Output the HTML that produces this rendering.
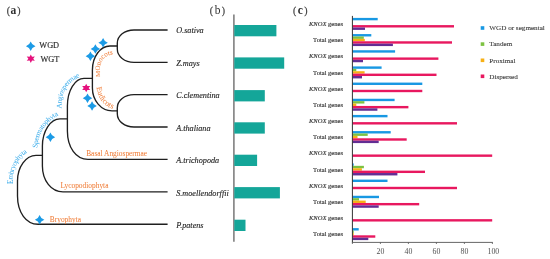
<!DOCTYPE html>
<html><head><meta charset="utf-8"><title>figure</title>
<style>
html,body{margin:0;padding:0;background:#fff;}
svg{display:block;font-family:"Liberation Serif",serif;}
.sp{font-style:italic;font-size:8.2px;fill:#2b2b2b;stroke:#2b2b2b;stroke-width:0.15;}
.or{font-size:7.4px;fill:#F0813F;stroke:#F0813F;stroke-width:0.05;}
.bl{font-size:7.2px;fill:#33A9EA;}
.lg{font-size:7.15px;fill:#3a3a3a;stroke:#3a3a3a;stroke-width:0.1;}
.cat{font-size:6.55px;fill:#2e2e2e;text-anchor:end;stroke:#2e2e2e;stroke-width:0.12;}
.tk{font-size:7.8px;fill:#505050;text-anchor:middle;}
.pl{font-size:12.5px;fill:#333;}
.tree{fill:none;stroke:#1f1f1f;stroke-width:1.35;}
</style></head><body>
<svg width="550" height="259" viewBox="0 0 550 259">
<rect width="550" height="259" fill="#fff"/>

<text fill="#3a3a3a"><tspan x="6.7" y="13.9" font-size="9.8" stroke="#3a3a3a" stroke-width="0.2">(</tspan><tspan x="10.5" y="14.2" font-size="11.5" fill="#2e2e2e" font-weight="bold">a</tspan><tspan x="20.6" y="13.9" font-size="9.8" stroke="#3a3a3a" stroke-width="0.2" text-anchor="end">)</tspan></text>
<text fill="#3a3a3a"><tspan x="209.8" y="14.0" font-size="9.8" stroke="#3a3a3a" stroke-width="0.2">(</tspan><tspan x="214.7" y="14.3" font-size="11.5" fill="#2e2e2e">b</tspan><tspan x="225.1" y="14.0" font-size="9.8" stroke="#3a3a3a" stroke-width="0.2" text-anchor="end">)</tspan></text>
<text fill="#3a3a3a"><tspan x="292.9" y="13.9" font-size="9.8" stroke="#3a3a3a" stroke-width="0.2">(</tspan><tspan x="297.8" y="14.2" font-size="11.5" fill="#2e2e2e" font-weight="bold">c</tspan><tspan x="307.5" y="13.9" font-size="9.8" stroke="#3a3a3a" stroke-width="0.2" text-anchor="end">)</tspan></text>
<path d="M30.7,41.55 Q31.84,45.16 35.45,46.3 Q31.84,47.44 30.7,51.05 Q29.56,47.44 25.95,46.3 Q29.56,45.16 30.7,41.55Z" fill="#1C9BE6"/>
<polygon points="30.80,54.45 32.01,56.79 34.85,56.58 33.22,58.70 34.85,60.83 32.01,60.61 30.80,62.95 29.59,60.61 26.75,60.83 28.38,58.70 26.75,56.58 29.59,56.79" fill="#E5127D"/>
<text x="39.3" y="48.3" font-size="8.3" fill="#2b2b2b" stroke="#2b2b2b" stroke-width="0.15">WGD</text>
<text x="40.4" y="62.1" font-size="8.3" fill="#2b2b2b" stroke="#2b2b2b" stroke-width="0.15">WGT</text>
<path class="tree" d="M167.6,29.95 H134 C124.6,29.95 117.3,35.8 117.3,43.2 V49 C117.3,56.4 124.6,62.3 134,62.3 H167.6"/>
<path class="tree" d="M117.3,46 H110 C100.3,46 92.4,56.7 92.4,70 V88 C92.4,100.5 101.2,110.8 112,110.8 H117.3"/>
<path class="tree" d="M167.6,94.65 H134 C124.6,94.65 117.3,100.5 117.3,107.9 V113.7 C117.3,121.1 124.6,127 134,127 H167.6"/>
<path class="tree" d="M92.4,78.4 H84 C75,78.4 67.4,90.7 67.4,106 V131 C67.4,147.5 76,159.4 88,159.4 H167.6"/>
<path class="tree" d="M67.4,118.8 H60 C50.5,118.8 42.4,131 42.4,146 V166 C42.4,180.5 51.2,191.85 63,191.85 H167.6"/>
<path class="tree" d="M42.4,155.4 H36 C26,155.4 17.5,167 17.5,181 V196 C17.5,212.5 26.2,224.2 38,224.2 H167.6"/>
<path d="M103.1,38.05 Q104.24,41.66 107.85,42.8 Q104.24,43.94 103.1,47.55 Q101.96,43.94 98.35,42.8 Q101.96,41.66 103.1,38.05Z" fill="#1C9BE6"/>
<path d="M95.4,44.15 Q96.54,47.76 100.15,48.9 Q96.54,50.04 95.4,53.65 Q94.26,50.04 90.65,48.9 Q94.26,47.76 95.4,44.15Z" fill="#1C9BE6"/>
<path d="M90.4,51.45 Q91.54,55.06 95.15,56.2 Q91.54,57.34 90.4,60.95 Q89.26,57.34 85.65,56.2 Q89.26,55.06 90.4,51.45Z" fill="#1C9BE6"/>
<path d="M87.5,93.45 Q88.64,97.06 92.25,98.2 Q88.64,99.34 87.5,102.95 Q86.36,99.34 82.75,98.2 Q86.36,97.06 87.5,93.45Z" fill="#1C9BE6"/>
<path d="M92.05,101.35 Q93.19,104.96 96.8,106.1 Q93.19,107.24 92.05,110.85 Q90.91,107.24 87.3,106.1 Q90.91,104.96 92.05,101.35Z" fill="#1C9BE6"/>
<path d="M50.4,132.45 Q51.54,136.06 55.15,137.2 Q51.54,138.33999999999997 50.4,141.95 Q49.26,138.33999999999997 45.65,137.2 Q49.26,136.06 50.4,132.45Z" fill="#1C9BE6"/>
<path d="M39.6,215.05 Q40.74,218.66000000000003 44.35,219.8 Q40.74,220.94 39.6,224.55 Q38.46,220.94 34.85,219.8 Q38.46,218.66000000000003 39.6,215.05Z" fill="#1C9BE6"/>
<polygon points="86.20,83.75 87.41,86.09 90.25,85.88 88.62,88.00 90.25,90.12 87.41,89.91 86.20,92.25 84.99,89.91 82.15,90.12 83.78,88.00 82.15,85.88 84.99,86.09" fill="#E5127D"/>
<text class="sp" x="176.2" y="33.2">O.sativa</text>
<text class="sp" x="176.2" y="65.6">Z.mays</text>
<text class="sp" x="176.2" y="98.2">C.clementina</text>
<text class="sp" x="176.2" y="130.6">A.thaliana</text>
<text class="sp" x="176.2" y="163">A.trichopoda</text>
<text class="sp" x="176.2" y="195.9">S.moellendorffii</text>
<text class="sp" x="176.2" y="228.3">P.patens</text>
<text class="or" x="86.2" y="156.2">Basal Angiospermae</text>
<text class="or" x="60.4" y="187.8">Lycopodiophyta</text>
<text class="or" x="49.8" y="222.4">Bryophyta</text>
<defs>
<path id="pE" d="M12.7,186 V181 C12.7,164.4 23,150.7 36,150.7"/>
<path id="pS" d="M37.3,148 C38,137.5 41.8,124.8 57.2,115.8 L66,111"/>
<path id="pA" d="M61.5,108.5 C61.5,96 63.2,84 80.8,76.4 L90,72.4"/>
<path id="pM" d="M99.9,80 V70 C99.9,61.5 104.4,55.6 112,54.6 L118,53.8"/>
<path id="pU" d="M96.2,82 C96.5,97 103,108 118,109.8"/>
</defs>
<text class="bl"><textPath href="#pE" startOffset="2" letter-spacing="-0.3">Embryophyta</textPath></text>
<text class="bl"><textPath href="#pS" startOffset="0" letter-spacing="-0.22">Spermatophyta</textPath></text>
<text class="bl"><textPath href="#pA" startOffset="0" letter-spacing="-0.24">Angiospermae</textPath></text>
<text class="or" style="font-size:7px"><textPath href="#pM" startOffset="3">MOnocots</textPath></text>
<text class="or" style="font-size:7.7px"><textPath href="#pU" startOffset="5" letter-spacing="0.25">Eudicots</textPath></text>
<line x1="233.9" y1="14.5" x2="233.9" y2="241.8" stroke="#777" stroke-width="1.5"/>
<rect x="234.3" y="25.0" width="42.1" height="11.3" fill="#14A699"/>
<rect x="234.3" y="57.4" width="49.9" height="11.3" fill="#14A699"/>
<rect x="234.3" y="90.1" width="30.5" height="11.3" fill="#14A699"/>
<rect x="234.3" y="122.3" width="30.5" height="11.3" fill="#14A699"/>
<rect x="234.3" y="154.7" width="22.8" height="11.3" fill="#14A699"/>
<rect x="234.3" y="187.1" width="45.6" height="11.3" fill="#14A699"/>
<rect x="234.3" y="219.7" width="11.2" height="11.3" fill="#14A699"/>
<rect x="352.4" y="17.90" width="25.3" height="2.4" fill="#1898E3"/>
<rect x="352.4" y="25.10" width="101.6" height="2.4" fill="#E8185F"/>
<rect x="352.4" y="27.50" width="12.6" height="2.4" fill="#622D93"/>
<text class="cat" x="343" y="26.0"><tspan font-style="italic">KNOX</tspan> genes</text>
<rect x="352.4" y="34.07" width="18.9" height="2.4" fill="#1898E3"/>
<rect x="352.4" y="36.47" width="11.4" height="2.4" fill="#7DC242"/>
<rect x="352.4" y="38.87" width="12.4" height="2.4" fill="#F7B015"/>
<rect x="352.4" y="41.27" width="99.6" height="2.4" fill="#E8185F"/>
<rect x="352.4" y="43.67" width="40.5" height="2.4" fill="#622D93"/>
<text class="cat" x="343" y="42.2">Total genes</text>
<rect x="352.4" y="50.24" width="42.7" height="2.4" fill="#1898E3"/>
<rect x="352.4" y="57.44" width="86.0" height="2.4" fill="#E8185F"/>
<rect x="352.4" y="59.84" width="10.6" height="2.4" fill="#622D93"/>
<text class="cat" x="343" y="58.3"><tspan font-style="italic">KNOX</tspan> genes</text>
<rect x="352.4" y="66.41" width="29.2" height="2.4" fill="#1898E3"/>
<rect x="352.4" y="68.81" width="3.9" height="2.4" fill="#7DC242"/>
<rect x="352.4" y="71.21" width="12.2" height="2.4" fill="#F7B015"/>
<rect x="352.4" y="73.61" width="84.1" height="2.4" fill="#E8185F"/>
<rect x="352.4" y="76.01" width="9.6" height="2.4" fill="#622D93"/>
<text class="cat" x="343" y="74.5">Total genes</text>
<rect x="352.4" y="82.58" width="69.9" height="2.4" fill="#1898E3"/>
<rect x="352.4" y="89.78" width="69.9" height="2.4" fill="#E8185F"/>
<text class="cat" x="343" y="90.7"><tspan font-style="italic">KNOX</tspan> genes</text>
<rect x="352.4" y="98.75" width="42.2" height="2.4" fill="#1898E3"/>
<rect x="352.4" y="101.15" width="12.0" height="2.4" fill="#7DC242"/>
<rect x="352.4" y="103.55" width="3.9" height="2.4" fill="#F7B015"/>
<rect x="352.4" y="105.95" width="56.0" height="2.4" fill="#E8185F"/>
<rect x="352.4" y="108.35" width="25.0" height="2.4" fill="#622D93"/>
<text class="cat" x="343" y="106.8">Total genes</text>
<rect x="352.4" y="114.92" width="35.1" height="2.4" fill="#1898E3"/>
<rect x="352.4" y="122.12" width="104.6" height="2.4" fill="#E8185F"/>
<text class="cat" x="343" y="123.0"><tspan font-style="italic">KNOX</tspan> genes</text>
<rect x="352.4" y="131.09" width="38.3" height="2.4" fill="#1898E3"/>
<rect x="352.4" y="133.49" width="15.3" height="2.4" fill="#7DC242"/>
<rect x="352.4" y="135.89" width="5.1" height="2.4" fill="#F7B015"/>
<rect x="352.4" y="138.29" width="54.3" height="2.4" fill="#E8185F"/>
<rect x="352.4" y="140.69" width="26.3" height="2.4" fill="#622D93"/>
<text class="cat" x="343" y="139.2">Total genes</text>
<rect x="352.4" y="154.46" width="139.8" height="2.4" fill="#E8185F"/>
<text class="cat" x="343" y="155.4"><tspan font-style="italic">KNOX</tspan> genes</text>
<rect x="352.4" y="163.43" width="1.3" height="2.4" fill="#1898E3"/>
<rect x="352.4" y="165.83" width="11.5" height="2.4" fill="#7DC242"/>
<rect x="352.4" y="168.23" width="9.5" height="2.4" fill="#F7B015"/>
<rect x="352.4" y="170.63" width="72.6" height="2.4" fill="#E8185F"/>
<rect x="352.4" y="173.03" width="45.0" height="2.4" fill="#622D93"/>
<text class="cat" x="343" y="171.5">Total genes</text>
<rect x="352.4" y="179.60" width="35.1" height="2.4" fill="#1898E3"/>
<rect x="352.4" y="186.80" width="104.6" height="2.4" fill="#E8185F"/>
<text class="cat" x="343" y="187.7"><tspan font-style="italic">KNOX</tspan> genes</text>
<rect x="352.4" y="195.77" width="26.6" height="2.4" fill="#1898E3"/>
<rect x="352.4" y="198.17" width="6.6" height="2.4" fill="#7DC242"/>
<rect x="352.4" y="200.57" width="13.3" height="2.4" fill="#F7B015"/>
<rect x="352.4" y="202.97" width="66.8" height="2.4" fill="#E8185F"/>
<rect x="352.4" y="205.37" width="26.3" height="2.4" fill="#622D93"/>
<text class="cat" x="343" y="203.9">Total genes</text>
<rect x="352.4" y="219.14" width="139.8" height="2.4" fill="#E8185F"/>
<text class="cat" x="343" y="220.0"><tspan font-style="italic">KNOX</tspan> genes</text>
<rect x="352.4" y="228.11" width="6.3" height="2.4" fill="#1898E3"/>
<rect x="352.4" y="230.51" width="1.3" height="2.4" fill="#7DC242"/>
<rect x="352.4" y="232.91" width="1.3" height="2.4" fill="#F7B015"/>
<rect x="352.4" y="235.31" width="22.9" height="2.4" fill="#E8185F"/>
<rect x="352.4" y="237.71" width="15.9" height="2.4" fill="#622D93"/>
<text class="cat" x="343" y="236.2">Total genes</text>
<line x1="352.4" y1="15.9" x2="352.4" y2="242.4" stroke="#333" stroke-width="1"/>
<line x1="351.9" y1="242.4" x2="492.8" y2="242.4" stroke="#555" stroke-width="0.9"/>
<line x1="352.4" y1="242.4" x2="352.4" y2="244" stroke="#555" stroke-width="0.8"/>
<line x1="380.4" y1="242.4" x2="380.4" y2="244" stroke="#555" stroke-width="0.8"/>
<text class="tk" x="380.4" y="253.5">20</text>
<line x1="408.4" y1="242.4" x2="408.4" y2="244" stroke="#555" stroke-width="0.8"/>
<text class="tk" x="408.4" y="253.5">40</text>
<line x1="436.4" y1="242.4" x2="436.4" y2="244" stroke="#555" stroke-width="0.8"/>
<text class="tk" x="436.4" y="253.5">60</text>
<line x1="464.4" y1="242.4" x2="464.4" y2="244" stroke="#555" stroke-width="0.8"/>
<text class="tk" x="464.4" y="253.5">80</text>
<line x1="492.4" y1="242.4" x2="492.4" y2="244" stroke="#555" stroke-width="0.8"/>
<text class="tk" x="493.4" y="253.5">100</text>
<rect x="480.7" y="26.2" width="3.6" height="3.6" fill="#1898E3"/>
<text class="lg" x="489.3" y="30.2">WGD or segmental</text>
<rect x="480.7" y="42.300000000000004" width="3.6" height="3.6" fill="#7DC242"/>
<text class="lg" x="489.3" y="46.300000000000004">Tandem</text>
<rect x="480.7" y="58.5" width="3.6" height="3.6" fill="#F7B015"/>
<text class="lg" x="489.3" y="62.5">Proximal</text>
<rect x="480.7" y="74.5" width="3.6" height="3.6" fill="#E8185F"/>
<text class="lg" x="489.3" y="78.5">Dispersed</text>
</svg></body></html>
